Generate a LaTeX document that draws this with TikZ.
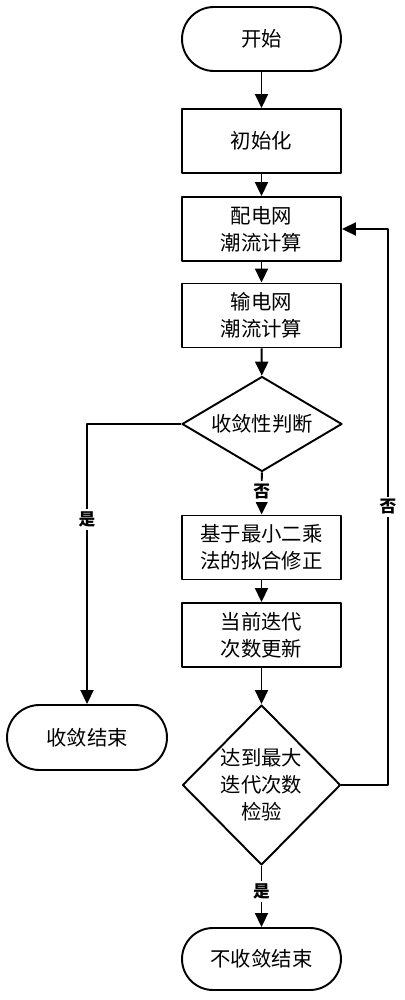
\documentclass[tikz,border=0pt]{standalone}
\usepackage{fontspec}
\setmainfont{Noto Sans CJK SC}
\usetikzlibrary{arrows.meta,shapes.geometric,calc}

\begin{document}
\begin{tikzpicture}[x=0.02cm,y=-0.02cm,
          line join=round,
          box/.style={draw,line width=1.1pt,minimum width=3.18cm,minimum height=1.28cm,
                      inner sep=0pt,align=center,font=\fontsize{11.6}{15.4}\selectfont},
          term/.style={box,rounded corners=0.64cm},
          test/.style={diamond,draw,line width=1.1pt,inner sep=0pt,align=center,
                       font=\fontsize{11.6}{15.4}\selectfont},
          flow/.style={line width=1.1pt,-{Triangle[length=0.28cm,width=0.26cm]}},
          tag/.style={fill=white,inner sep=1.5pt,font=\fontsize{9.5}{11}\selectfont\bfseries}]
        \useasboundingbox (0,0) rectangle (405,1000);

        \node[term] (start) at (261.5,39) {开始};
        \node[box] (init) at (261.5,141) {初始化};
        \node[box] (dist) at (261.5,229) {配电网\\潮流计算};
        \node[box] (trans) at (261.5,315.5) {输电网\\潮流计算};
        \node[test,shape aspect=1.68,minimum width=3.2cm,minimum height=1.9cm] (conv) at (262,424) {收敛性判断};
        \node[box] (fit) at (261.5,547.5) {基于最小二乘\\法的拟合修正};
        \node[box] (upd) at (261.5,635) {当前迭代\\次数更新};
        \node[test,minimum width=3.16cm,minimum height=3.2cm] (maxit) at (261.5,785) {达到最大\\迭代次数\\检验};
        \node[term,minimum height=1.24cm,rounded corners=0.62cm] (nend) at (261.5,959) {不收敛结束};
        \node[term,minimum width=3.2cm,minimum height=1.3cm,rounded corners=0.65cm] (cend) at (87,737.5) {收敛结束};

        \foreach \a/\b in {start/init,init/dist,dist/trans,trans/conv,fit/upd,upd/maxit}
          \draw[flow] (\a) -- (\b);
        \draw[flow] (conv) -- node[tag,pos=0.45] {否} (fit);
        \draw[flow] (maxit) -- node[tag,pos=0.42] {是} (nend);

        \draw[flow] (conv.west) -| node[tag,pos=0.67] {是} (cend.north);
        \coordinate (back) at (388,785);
        \draw[flow] (maxit.east) -- (back) |- node[tag,pos=0.25] {否} (dist.east);
      \end{tikzpicture}
\end{document}
